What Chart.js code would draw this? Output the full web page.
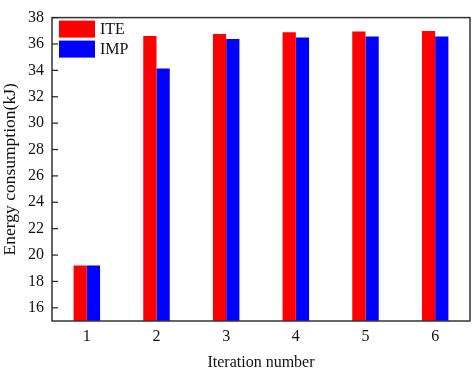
<!DOCTYPE html>
<html>
<head>
<meta charset="utf-8">
<script src="https://cdn.jsdelivr.net/npm/chart.js@4.4.0/dist/chart.umd.min.js"></script>
<style>
  html, body { margin: 0; padding: 0; background: #fff; }
  #wrap { width: 474px; height: 372px; }
</style>
</head>
<body>
<div id="wrap"><canvas id="energy"></canvas></div>
<script>
// data
const iterations = ['1', '2', '3', '4', '5', '6'];
const iteValues = [19.2, 36.6, 36.76, 36.89, 36.94, 36.99];
const impValues = [19.2, 34.15, 36.37, 36.49, 36.57, 36.57];
const yTicks = [16, 18, 20, 22, 24, 26, 28, 30, 32, 34, 36, 38];

const serif = "'Liberation Serif', 'Times New Roman', serif";
const axisColor = '#222';

// frame round the plot + inward ticks on the y axis + legend in the corner
const framePlugin = {
  id: 'frame',
  afterDraw(chart) {
    const { ctx, chartArea: a, scales } = chart;
    ctx.save();
    ctx.strokeStyle = '#333';
    ctx.lineWidth = 1.5;
    ctx.strokeRect(a.left, a.top, a.right - a.left, a.bottom - a.top);

    ctx.lineWidth = 1.2;
    ctx.strokeStyle = axisColor;
    yTicks.forEach(v => {
      const y = scales.y.getPixelForValue(v);
      ctx.beginPath();
      ctx.moveTo(a.left, y);
      ctx.lineTo(a.left + 6, y);
      ctx.stroke();
    });

    // legend
    ctx.font = '16px ' + serif;
    ctx.textBaseline = 'middle';
    chart.data.datasets.forEach((ds, i) => {
      const bx = a.left + 7, by = a.top + 3 + i * 20;
      ctx.fillStyle = ds.backgroundColor;
      ctx.fillRect(bx, by, 36, 17);
      ctx.fillStyle = '#111';
      ctx.fillText(ds.label, bx + 41, by + 9);
    });
    ctx.restore();
  }
};

new Chart(document.getElementById('energy').getContext('2d'), {
  type: 'bar',
  data: {
    labels: iterations,
    datasets: [
      { label: 'ITE', data: iteValues, backgroundColor: '#ff0000' },
      { label: 'IMP', data: impValues, backgroundColor: '#0000ff' },
    ],
  },
  options: {
    responsive: true,
    maintainAspectRatio: false,
    animation: false,
    layout: { padding: { top: 10, right: 4, left: 0, bottom: 0 } },
    datasets: { bar: { categoryPercentage: 0.38, barPercentage: 1.0 } },
    plugins: {
      legend: { display: false },
      tooltip: { enabled: false },
    },
    scales: {
      x: {
        grid: { display: false, drawTicks: false },
        border: { display: false },
        ticks: { color: '#111', font: { family: serif, size: 16 }, padding: 6 },
        title: {
          display: true,
          text: 'Iteration number',
          color: '#111',
          font: { family: serif, size: 16 },
          padding: { top: 6, bottom: 0 },
        },
        afterFit(scale) { scale.height = 51; },
      },
      y: {
        min: 15,
        max: 38,
        grid: { display: false, drawTicks: false },
        border: { display: false },
        afterBuildTicks(scale) { scale.ticks = yTicks.map(v => ({ value: v })); },
        ticks: { color: '#111', font: { family: serif, size: 16 }, padding: 8 },
        title: {
          display: true,
          text: 'Energy consumption(kJ)',
          color: '#111',
          font: { family: serif, size: 17.5 },
          padding: { top: 0, bottom: 0 },
        },
        afterFit(scale) { scale.width = 52; },
      },
    },
  },
  plugins: [framePlugin],
});
</script>
</body>
</html>
